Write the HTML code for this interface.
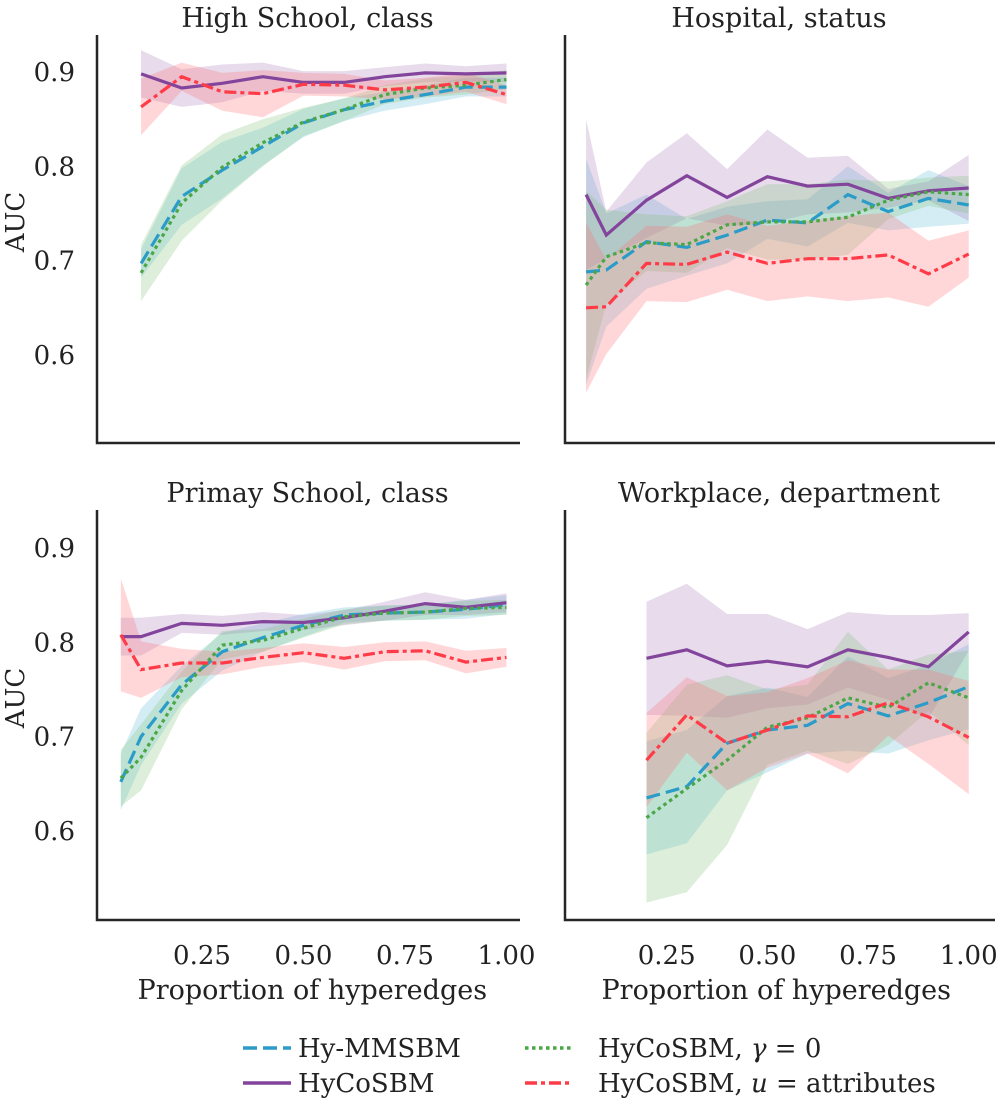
<!DOCTYPE html>
<html><head><meta charset="utf-8"><style>
body{margin:0;background:#fff}
svg text{font-family:"DejaVu Serif","Liberation Serif",serif;fill:#222}
</style></head><body>
<svg id="chart" width="1000" height="1101" viewBox="0 0 1000 1101" xmlns="http://www.w3.org/2000/svg"></svg>
<script>
// ---- data ----
const seriesNames = ["Hy-MMSBM","HyCoSBM","HyCoSBM, gamma = 0","HyCoSBM, u = attributes"];
const yTicks = [0.6,0.7,0.8,0.9];
const xTicks = [0.25,0.50,0.75,1.00];
const xTickLabels = ["0.25","0.50","0.75","1.00"];
const panelTitles = ["High School, class","Hospital, status","Primay School, class","Workplace, department"];

const hsX = [0.1,0.2,0.3,0.4,0.5,0.6,0.7,0.8,0.9,1.0];
const hsBlue = [.697,.768,.796,.821,.846,.860,.869,.876,.884,.884];
const hsPurple = [.898,.883,.888,.895,.889,.889,.895,.899,.898,.899];
const hsGreen = [.687,.761,.799,.825,.847,.860,.876,.883,.886,.892];
const hsRed = [.863,.895,.879,.877,.887,.886,.881,.884,.889,.876];
const hsBlueErr = [.015,.03,.03,.02,.015,.012,.01,.01,.01,.01];
const hsPurpleErr = [.025,.02,.02,.015,.012,.012,.01,.01,.008,.01];
const hsGreenErr = [.03,.04,.035,.025,.015,.012,.01,.01,.01,.01];
const hsRedErr = [.03,.015,.02,.025,.012,.012,.01,.01,.01,.01];

const hoX = [0.05,0.1,0.2,0.3,0.4,0.5,0.6,0.7,0.8,0.9,1.0];
const hoBlue = [.688,.690,.720,.714,.727,.743,.740,.770,.752,.766,.759];
const hoPurple = [.770,.727,.764,.790,.767,.789,.779,.781,.766,.774,.777];
const hoGreen = [.674,.704,.719,.717,.738,.741,.741,.746,.764,.773,.770];
const hoRed = [.650,.651,.697,.696,.709,.697,.702,.702,.706,.686,.707];
const hoBlueErr = [.12,.06,.05,.03,.03,.02,.025,.03,.02,.03,.02];
const hoPurpleErr = [.08,.025,.04,.045,.03,.05,.03,.03,.01,.01,.035];
const hoGreenErr = [.1,.05,.03,.03,.025,.04,.04,.04,.02,.015,.02];
const hoRedErr = [.09,.05,.04,.04,.04,.04,.04,.045,.045,.035,.025];

const psX = [0.05,0.1,0.2,0.3,0.4,0.5,0.6,0.7,0.8,0.9,1.0];
const psBlue = [.652,.700,.755,.790,.805,.818,.829,.831,.832,.835,.840];
const psPurple = [.806,.806,.820,.818,.822,.821,.826,.833,.841,.837,.842];
const psGreen = [.656,.678,.749,.797,.802,.815,.827,.831,.832,.836,.837];
const psRed = [.808,.771,.778,.778,.784,.789,.783,.790,.791,.779,.784];
const psBlueErr = [.03,.03,.02,.02,.015,.012,.008,.008,.008,.01,.01];
const psPurpleErr = [.02,.02,.01,.01,.01,.008,.008,.01,.012,.008,.01];
const psGreenErr = [.03,.035,.02,.015,.012,.01,.008,.008,.008,.008,.008];
const psRedErr = [.06,.03,.015,.012,.01,.01,.012,.01,.01,.012,.01];

const wpX = [0.2,0.3,0.4,0.5,0.6,0.7,0.8,0.9,1.0];
const wpBlue = [.635,.647,.693,.707,.712,.735,.722,.736,.753];
const wpPurple = [.783,.792,.775,.780,.774,.792,.784,.774,.811];
const wpGreen = [.614,.645,.675,.710,.720,.741,.731,.757,.741];
const wpRed = [.675,.723,.693,.707,.722,.721,.736,.721,.699];
const wpBlueErr = [.06,.06,.05,.045,.03,.05,.04,.04,.045];
const wpPurpleErr = [.06,.07,.055,.05,.04,.04,.045,.055,.02];
const wpGreenErr = [.09,.11,.09,.04,.035,.07,.04,.03,.05];
const wpRedErr = [.05,.04,.05,.04,.04,.06,.035,.05,.06];

// ---- drawing ----
const svg = document.getElementById('chart');
const NS = "http://www.w3.org/2000/svg";
function mk(tag, attrs, parent){const e=document.createElementNS(NS,tag);for(const k in attrs)e.setAttribute(k,attrs[k]);(parent||svg).appendChild(e);return e;}
const colors = ["#2b9bc8","#83449b","#4ba646","#ff3b47"];
const fills = ["rgba(100,190,220,0.28)","rgba(160,110,180,0.25)","rgba(120,190,110,0.25)","rgba(255,110,120,0.28)"];
const dashes = ["14,6","","3.5,3.5","12,4,4,4"];
const panels = [
 {x0:97,x:v=>100.5+406*v,top:35,bot:443,y0:72,title:panelTitles[0],X:hsX,s:[hsBlue,hsPurple,hsGreen,hsRed],e:[hsBlueErr,hsPurpleErr,hsGreenErr,hsRedErr],yl:true,xl:false,r:520},
 {x0:565,x:v=>566+402.7*v,top:35,bot:443,y0:72,title:panelTitles[1],X:hoX,s:[hoBlue,hoPurple,hoGreen,hoRed],e:[hoBlueErr,hoPurpleErr,hoGreenErr,hoRedErr],yl:false,xl:false,r:995},
 {x0:97,x:v=>100.5+406*v,top:510,bot:920,y0:548,title:panelTitles[2],X:psX,s:[psBlue,psPurple,psGreen,psRed],e:[psBlueErr,psPurpleErr,psGreenErr,psRedErr],yl:true,xl:true,r:520},
 {x0:565,x:v=>566+402.7*v,top:510,bot:920,y0:548,title:panelTitles[3],X:wpX,s:[wpBlue,wpPurple,wpGreen,wpRed],e:[wpBlueErr,wpPurpleErr,wpGreenErr,wpRedErr],yl:false,xl:true,r:995}
];
panels.forEach((p,pi)=>{
  const g = mk('g',{});
  
  
  const Y = v=>p.y0+(0.9-v)*943;
  const t = mk('text',{x:(p.x0+p.r)/2-1,y:p.top-8,'text-anchor':'middle','font-size':'27'},g);
  t.textContent = p.title;
  
  
  p.s.forEach((vals,si)=>{
    const err=p.e[si];
    let d='';
    p.X.forEach((xv,i)=>{d+=(i?'L':'M')+p.x(xv).toFixed(1)+','+Y(vals[i]+err[i]).toFixed(1);});
    for(let i=p.X.length-1;i>=0;i--){d+='L'+p.x(p.X[i]).toFixed(1)+','+Y(vals[i]-err[i]).toFixed(1);}
    const b=mk('path',{d:d+'Z',fill:fills[si],stroke:'none'},g);
    
    
  });
  p.s.forEach((vals,si)=>{
    const pts=p.X.map((xv,i)=>p.x(xv).toFixed(1)+','+Y(vals[i]).toFixed(1)).join(' ');
    const l=mk('polyline',{points:pts,fill:'none',stroke:colors[si],'stroke-width':3.2,'stroke-dasharray':dashes[si]},g);
    
    
  });
  const ax=mk('path',{d:`M${p.x0},${p.top}V${p.bot}H${p.r}`,fill:'none',stroke:'#262626','stroke-width':2.5},g);
  
  
  if(p.yl){
    yTicks.forEach(v=>{
      const tt=mk('text',{x:p.x0-22,y:Y(v)+9,'text-anchor':'end','font-size':'26'},g);
      tt.textContent=v.toFixed(1);
      
      
    });
    const yt=mk('text',{x:0,y:0,'text-anchor':'middle','font-size':'26',transform:`translate(24,${(p.top+p.bot)/2-17}) rotate(-90)`},g);
    yt.textContent='AUC';
    
    
  }
  if(p.xl){
    xTicks.forEach((v,i)=>{
      const tt=mk('text',{x:p.x(v),y:p.bot+44,'text-anchor':'middle','font-size':'26'},g);
      tt.textContent=xTickLabels[i];
      
      
    });
    const xt=mk('text',{x:p.x(0.47)+21,y:p.bot+79,'text-anchor':'middle','font-size':'27'},g);
    xt.textContent='Proportion of hyperedges';
    
    
  }
});
const lg = mk('g',{});


const legPos=[[243,1048],[243,1083],[525,1048],[525,1083]];
const legHtml=['Hy-MMSBM','HyCoSBM','HyCoSBM, <tspan font-style="italic">γ</tspan> = 0','HyCoSBM, <tspan font-style="italic">u</tspan> = attributes'];
legPos.forEach((q,i)=>{
  const e=mk('g',{},lg);
  
  
  mk('line',{x1:q[0],y1:q[1],x2:q[0]+48,y2:q[1],stroke:colors[i],'stroke-width':3.5,'stroke-dasharray':dashes[i]},e);
  const t=mk('text',{x:q[0]+(i<2?55:73),y:q[1]+9,'font-size':'26'},e);
  t.innerHTML=legHtml[i];
});
</script>
</body></html>
